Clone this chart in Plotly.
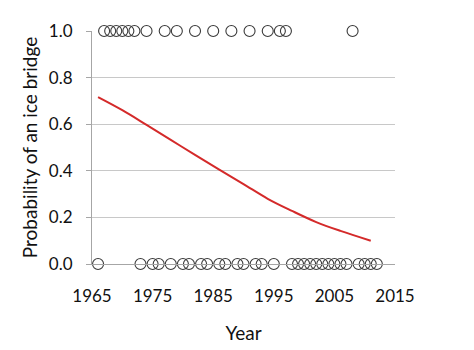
import plotly.graph_objects as go

# Observed ice bridge presence (1) or absence (0) by year
years_bridge = [1967, 1968, 1969, 1970, 1971, 1972, 1974, 1977, 1979, 1982,
                1985, 1988, 1991, 1994, 1996, 1997, 2008]
years_no_bridge = [1966, 1973, 1975, 1976, 1978, 1980, 1981, 1983, 1984, 1986,
                   1987, 1989, 1990, 1992, 1993, 1995, 1998, 1999, 2000, 2001,
                   2002, 2003, 2004, 2005, 2006, 2007, 2009, 2010, 2011, 2012]

# Fitted probability curve
fit_years = [1966, 1970, 1974, 1978, 1982, 1986, 1990, 1994, 1998, 2002, 2006, 2011]
fit_prob = [0.716, 0.66, 0.597, 0.533, 0.468, 0.405, 0.343, 0.28, 0.228, 0.18, 0.142, 0.10]

x_ticks = [1965, 1975, 1985, 1995, 2005, 2015]
y_ticks = [0.0, 0.2, 0.4, 0.6, 0.8, 1.0]

font_family = "Lato, 'Open Sans', sans-serif"

fig = go.Figure()
marker_style = dict(symbol="circle-open", size=11, color="#3a3a3a", line=dict(width=1.1))
fig.add_trace(go.Scatter(x=years_bridge, y=[1.0] * len(years_bridge), mode="markers",
                         marker=marker_style, cliponaxis=False, showlegend=False))
fig.add_trace(go.Scatter(x=years_no_bridge, y=[0.0] * len(years_no_bridge), mode="markers",
                         marker=marker_style, cliponaxis=False, showlegend=False))
fig.add_trace(go.Scatter(x=fit_years, y=fit_prob, mode="lines", line_shape="spline",
                         line=dict(color="#d42a2a", width=2), showlegend=False))

fig.update_layout(
    width=474, height=350,
    margin=dict(l=92, r=79, t=31, b=86),
    plot_bgcolor="white", paper_bgcolor="white",
    font=dict(family=font_family, size=17, color="#111"),
)
fig.update_xaxes(
    range=[1965, 2015], tickvals=x_ticks, ticktext=[str(v) for v in x_ticks],
    showgrid=False, zeroline=False, showline=True, linecolor="#a6a6a6", linewidth=1,
    ticks="", ticklabelstandoff=17, automargin=False,
    title=dict(text="Year", font=dict(size=19), standoff=21),
)
fig.update_yaxes(
    range=[0, 1.0], tickvals=y_ticks, ticktext=[f"{v:.1f}" for v in y_ticks],
    showgrid=True, gridcolor="#c8c8c8", gridwidth=1, zeroline=False,
    showline=True, linecolor="#a6a6a6", linewidth=1, automargin=False,
    ticks="outside", ticklen=5, tickcolor="#a6a6a6", ticklabelstandoff=10,
    title=dict(text="Probability of an ice bridge", font=dict(size=19), standoff=6),
)

fig.write_html("out.html")
